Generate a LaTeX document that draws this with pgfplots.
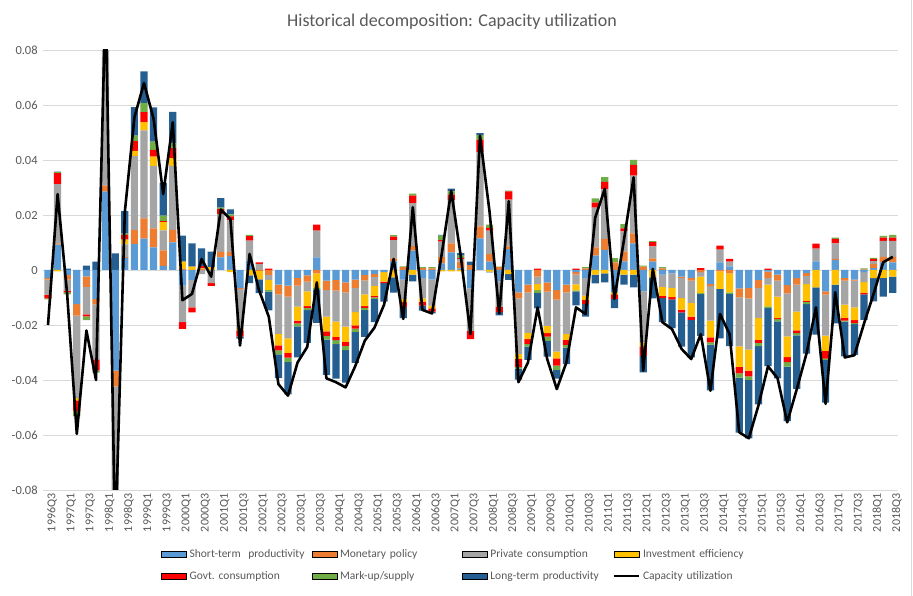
\documentclass[border=0pt]{standalone}
\usepackage{pgfplots}
\pgfplotsset{compat=1.18}
\usepackage{pgfplotstable}
\usepackage{fontspec}
\setmainfont{Carlito}

\definecolor{cST}{HTML}{5B9BD5}
\definecolor{cMP}{HTML}{ED7D31}
\definecolor{cPC}{HTML}{A5A5A5}
\definecolor{cIE}{HTML}{FFC000}
\definecolor{cGC}{HTML}{FF0000}
\definecolor{cMK}{HTML}{70AD47}
\definecolor{cLT}{HTML}{255E91}
\definecolor{txt}{HTML}{595959}
\definecolor{gridc}{HTML}{D9D9D9}

% q = quarter index from 1996Q3; contributions by shock, cu = capacity utilization
\pgfplotstableread{
q  st      mp      pc      ie      gc      mk      lt      cu
0  -0.0030 -0.0005 -0.0055  0      -0.0013 -0.0004  0      -0.0200
1   0.0092  0.0005  0.0215 -0.0005  0.0040  0.0004  0.0002  0.0276
2  -0.0018 -0.0017 -0.0040  0      -0.0006 -0.0008  0.0005 -0.0090
3  -0.0124 -0.0042 -0.0300 -0.0008 -0.0040 -0.0018  0      -0.0596
4  -0.0023 -0.0038 -0.0100  0      -0.0008 -0.0013  0.0016 -0.0220
5  -0.0105 -0.0020 -0.0200  0      -0.0040 -0.0008  0.0030 -0.0400
6   0.0285  0.0022  0.0600  0       0       0       0       0.1000
7  -0.0366 -0.0057 -0.0600  0       0       0       0.0060 -0.1000
8   0.0044  0.0003  0.0046  0.0017  0.0018  0.0004  0.0082  0.0210
9   0.0095  0.0050  0.0270  0.0018  0.0036  0.0020  0.0103  0.0555
10  0.0114  0.0074  0.0320  0.0030  0.0036  0.0033  0.0115  0.0680
11  0.0082  0.0069  0.0228  0.0033  0.0025  0.0030  0.0124  0.0550
12  0.0015  0.0056  0.0073  0.0030  0.0004  0.0020  0.0119  0.0276
13  0.0100  0.0046  0.0233  0.0028  0.0036  0.0017  0.0115  0.0537
14 -0.0057  0.0005 -0.0133  0.0025 -0.0024  0       0.0095 -0.0110
15 -0.0036  0      -0.0100  0.0012 -0.0018  0       0.0085 -0.0087
16  0       0.0005 -0.0015  0.0002  0.0007  0       0.0065  0.0040
17  0       0      -0.0048  0.0010 -0.0010  0       0.0057 -0.0024
18  0.0046  0.0020  0.0137  0       0.0018  0.0006  0.0034  0.0220
19  0.0050  0.0015  0.0115 -0.0008  0.0015  0.0007  0.0018  0.0185
20 -0.0065 -0.0004 -0.0145 -0.0006 -0.0022  0      -0.0008 -0.0275
21  0.0034  0       0.0073 -0.0020  0.0016  0.0005 -0.0028  0.0058
22  0      -0.0003  0.0022 -0.0031  0.0006  0      -0.0050 -0.0075
23  0      -0.0018 -0.0018 -0.0036  0.0005 -0.0007 -0.0068 -0.0170
24 -0.0053 -0.0036 -0.0143 -0.0042 -0.0018 -0.0015 -0.0086 -0.0415
25 -0.0057 -0.0040 -0.0152 -0.0052 -0.0018 -0.0015 -0.0118 -0.0457
26 -0.0029 -0.0028 -0.0076 -0.0051 -0.0010 -0.0011 -0.0113 -0.0336
27 -0.0020 -0.0022 -0.0036 -0.0053 -0.0007 -0.0008 -0.0119 -0.0280
28  0.0046 -0.0012  0.0097 -0.0053  0.0022 -0.0007 -0.0120 -0.0045
29 -0.0039 -0.0033 -0.0098 -0.0053 -0.0017 -0.0013 -0.0128 -0.0394
30 -0.0036 -0.0039 -0.0113 -0.0055 -0.0012 -0.0015 -0.0125 -0.0408
31 -0.0045 -0.0036 -0.0125 -0.0055 -0.0015 -0.0015 -0.0119 -0.0427
32 -0.0035 -0.0030 -0.0088 -0.0048 -0.0012 -0.0012 -0.0113 -0.0350
33 -0.0018 -0.0020 -0.0051 -0.0042 -0.0007 -0.0008 -0.0097 -0.0257
34 -0.0015 -0.0010 -0.0033 -0.0036 -0.0006 -0.0005 -0.0085 -0.0210
35 -0.0008  0       0      -0.0034 -0.0006  0      -0.0067 -0.0127
36  0.0031  0.0011  0.0067 -0.0027  0.0012  0.0006 -0.0055  0.0040
37 -0.0035  0.0010 -0.0070 -0.0012 -0.0018  0.0003 -0.0040 -0.0178
38  0.0070  0.0018  0.0155 -0.0017  0.0027  0.0008 -0.0024  0.0228
39 -0.0030  0.0007 -0.0073 -0.0012 -0.0015  0.0003 -0.0018 -0.0145
40 -0.0034  0.0006 -0.0096 -0.0010 -0.0011  0.0004 -0.0007 -0.0158
41  0.0024  0.0024  0.0055 -0.0005  0.0006  0.0016  0.0003  0.0055
42  0.0064  0.0033  0.0158 -0.0005  0.0019  0.0012  0.0010  0.0288
43  0.0006  0.0024  0.0010 -0.0005  0.0004  0.0008  0.0009  0.0050
44 -0.0067  0.0018 -0.0154  0      -0.0030  0       0.0012 -0.0233
45  0.0115  0.0044  0.0270  0       0.0045  0.0016  0.0008  0.0488
46  0.0030  0.0028  0.0085 -0.0006  0.0010  0.0012 -0.0003  0.0210
47 -0.0041  0.0010 -0.0092  0      -0.0020  0.0002 -0.0012 -0.0158
48  0.0076  0.0010  0.0170 -0.0015  0.0030  0.0003 -0.0021  0.0250
49 -0.0081 -0.0022 -0.0202 -0.0018 -0.0030 -0.0006 -0.0040 -0.0408
50 -0.0053 -0.0028 -0.0148 -0.0022 -0.0018 -0.0010 -0.0048 -0.0336
51  0      -0.0024 -0.0027 -0.0022  0.0005 -0.0010 -0.0057 -0.0136
52 -0.0045 -0.0034 -0.0124 -0.0027 -0.0012 -0.0016 -0.0057 -0.0324
53 -0.0073 -0.0035 -0.0189 -0.0024 -0.0027 -0.0015 -0.0032 -0.0433
54 -0.0053 -0.0028 -0.0152 -0.0021 -0.0018 -0.0010 -0.0060 -0.0336
55 -0.0008 -0.0008 -0.0036 -0.0022  0.0005 -0.0004 -0.0051 -0.0136
56 -0.0029  0.0006 -0.0064 -0.0016 -0.0015  0.0004 -0.0046 -0.0160
57  0.0052  0.0030  0.0145 -0.0017  0.0018  0.0015 -0.0032  0.0190
58  0.0073  0.0040  0.0180 -0.0012  0.0027  0.0018 -0.0033  0.0295
59 -0.0081  0.0028  0      -0.0008 -0.0016  0.0015 -0.0034 -0.0105
60  0.0031  0.0036  0.0073 -0.0017  0.0011  0.0016 -0.0036  0.0110
61  0.0097  0.0036  0.0210 -0.0017  0.0039  0.0018 -0.0046  0.0337
62 -0.0078  0.0012 -0.0185 -0.0016 -0.0033  0.0004 -0.0060 -0.0366
63  0.0030  0.0012  0.0044 -0.0027  0.0015  0.0004 -0.0076  0.0004
64 -0.0017  0.0006 -0.0044 -0.0033 -0.0008  0.0004 -0.0088 -0.0190
65 -0.0012  0      -0.0053 -0.0034 -0.0008  0      -0.0104 -0.0215
66 -0.0024 -0.0005 -0.0073 -0.0042 -0.0010  0      -0.0125 -0.0287
67 -0.0029 -0.0010 -0.0081 -0.0050 -0.0011  0      -0.0137 -0.0324
68  0      -0.0008 -0.0016 -0.0060  0.0007 -0.0004 -0.0152 -0.0233
69 -0.0051 -0.0008 -0.0125 -0.0061 -0.0018 -0.0008 -0.0167 -0.0439
70  0.0028 -0.0005  0.0046 -0.0064  0.0015  0      -0.0180 -0.0160
71  0.0013 -0.0012  0.0017 -0.0069  0.0010 -0.0006 -0.0190 -0.0233
72 -0.0067 -0.0033 -0.0178 -0.0074 -0.0024 -0.0015 -0.0200 -0.0590
73 -0.0065 -0.0038 -0.0187 -0.0076 -0.0021 -0.0013 -0.0212 -0.0612
74 -0.0036 -0.0029 -0.0110 -0.0079 -0.0011 -0.0012 -0.0212 -0.0493
75 -0.0006 -0.0023 -0.0024 -0.0079  0.0005 -0.0007 -0.0211 -0.0350
76 -0.0017 -0.0022 -0.0058 -0.0078 -0.0004 -0.0008 -0.0207 -0.0394
77 -0.0055 -0.0030 -0.0156 -0.0076 -0.0018 -0.0016 -0.0199 -0.0554
78 -0.0030 -0.0023 -0.0098 -0.0069 -0.0010 -0.0008 -0.0194 -0.0433
79 -0.0011 -0.0010 -0.0030 -0.0061 -0.0004 -0.0008 -0.0180 -0.0305
80  0.0031  0       0.0047 -0.0063  0.0018  0      -0.0172 -0.0136
81 -0.0078 -0.0012 -0.0149 -0.0055 -0.0028 -0.0005 -0.0155 -0.0487
82  0.0036  0.0004  0.0057 -0.0053  0.0016  0.0005 -0.0141 -0.0081
83 -0.0029 -0.0010 -0.0087 -0.0048 -0.0010 -0.0004 -0.0126 -0.0318
84 -0.0035 -0.0004 -0.0097 -0.0046 -0.0011 -0.0004 -0.0112 -0.0310
85 -0.0008  0.0002 -0.0036 -0.0039 -0.0006  0.0004 -0.0092 -0.0195
86  0.0007  0.0015  0.0010 -0.0030  0.0008  0.0004 -0.0084 -0.0087
87  0.0028  0.0020  0.0058 -0.0029  0.0012  0.0006 -0.0068  0.0028
88  0.0028  0.0020  0.0058 -0.0024  0.0012  0.0010 -0.0059  0.0048
}\hd

\pgfplotsset{
  hdbase/.style={scale only axis, width=854.4pt, height=440pt,
    at={(0pt,0pt)}, anchor=south west,
    xmin=-0.5, xmax=88.5, ymin=-0.08, ymax=0.08},
  hdbars/.style={hdbase, ybar stacked, bar width=7.2pt},
  lgarea/.style={legend image code/.code={\fill[##1] (0pt,-3pt) rectangle (25pt,3pt);}},
  lgline/.style={legend image code/.code={\draw[##1] (0pt,0pt) -- (25pt,0pt);}},
}

\begin{document}
\begin{tikzpicture}
\useasboundingbox (-43.2pt,-106pt) rectangle (869.8pt,490pt);
\fill[white] (-43.2pt,-106pt) rectangle (869.8pt,490pt);

% positive contributions
\begin{axis}[hdbars,
  axis line style={draw=none}, major tick length=0pt,
  ymajorgrids, grid style={gridc, line width=0.8pt},
  scaled y ticks=false,
  ytick={-0.08,-0.06,-0.04,-0.02,0,0.02,0.04,0.06,0.08},
  yticklabels={-0.08,-0.06,-0.04,-0.02,0,0.02,0.04,0.06,0.08},
  xtick={0,2,...,88},
  xticklabels={1996Q3,1997Q1,1997Q3,1998Q1,1998Q3,1999Q1,1999Q3,2000Q1,2000Q3,2001Q1,2001Q3,2002Q1,2002Q3,2003Q1,2003Q3,2004Q1,2004Q3,2005Q1,2005Q3,2006Q1,2006Q3,2007Q1,2007Q3,2008Q1,2008Q3,2009Q1,2009Q3,2010Q1,2010Q3,2011Q1,2011Q3,2012Q1,2012Q3,2013Q1,2013Q3,2014Q1,2014Q3,2015Q1,2015Q3,2016Q1,2016Q3,2017Q1,2017Q3,2018Q1,2018Q3},
  x tick label style={rotate=90, anchor=east, font=\fontsize{12}{14}\selectfont, text=txt, yshift=-4pt},
  y tick label style={font=\fontsize{12.5}{14}\selectfont, text=txt, xshift=-2pt},
]
\addplot[draw=none, fill=cST] table[x=q, y expr={max(\thisrow{st},0)}] {\hd};
\addplot[draw=none, fill=cMP] table[x=q, y expr={max(\thisrow{mp},0)}] {\hd};
\addplot[draw=none, fill=cPC] table[x=q, y expr={max(\thisrow{pc},0)}] {\hd};
\addplot[draw=none, fill=cIE] table[x=q, y expr={max(\thisrow{ie},0)}] {\hd};
\addplot[draw=none, fill=cGC] table[x=q, y expr={max(\thisrow{gc},0)}] {\hd};
\addplot[draw=none, fill=cMK] table[x=q, y expr={max(\thisrow{mk},0)}] {\hd};
\addplot[draw=none, fill=cLT] table[x=q, y expr={max(\thisrow{lt},0)}] {\hd};
\end{axis}

% negative contributions
\begin{axis}[hdbars, hide axis]
\addplot[draw=none, fill=cST] table[x=q, y expr={min(\thisrow{st},0)}] {\hd};
\addplot[draw=none, fill=cMP] table[x=q, y expr={min(\thisrow{mp},0)}] {\hd};
\addplot[draw=none, fill=cPC] table[x=q, y expr={min(\thisrow{pc},0)}] {\hd};
\addplot[draw=none, fill=cIE] table[x=q, y expr={min(\thisrow{ie},0)}] {\hd};
\addplot[draw=none, fill=cGC] table[x=q, y expr={min(\thisrow{gc},0)}] {\hd};
\addplot[draw=none, fill=cMK] table[x=q, y expr={min(\thisrow{mk},0)}] {\hd};
\addplot[draw=none, fill=cLT] table[x=q, y expr={min(\thisrow{lt},0)}] {\hd};
\end{axis}

% capacity utilization line and legend
\begin{axis}[hdbase, hide axis,
  legend columns=4,
  legend style={at={(0.1379,-0.1318)}, anchor=north west, draw=none, fill=none,
    inner sep=0pt, row sep=10pt, cells={anchor=west},
    nodes={inner ysep=0pt, inner xsep=3pt, text width=119pt, text height=9pt, text depth=3pt,
      font=\fontsize{11.5}{14}\selectfont, text=txt}},
]
\addlegendimage{lgarea, fill=cST}
\addlegendimage{lgarea, fill=cMP}
\addlegendimage{lgarea, fill=cPC}
\addlegendimage{lgarea, fill=cIE}
\addlegendimage{lgarea, fill=cGC}
\addlegendimage{lgarea, fill=cMK}
\addlegendimage{lgarea, fill=cLT}
\addplot[black, line width=2.6pt, line join=round, lgline]
  table[x=q, y=cu] {\hd};
\legend{\mbox{Short-term\ \ productivity}, \mbox{Monetary policy}, \mbox{Private consumption}, \mbox{Investment efficiency},
  \mbox{Govt.\ consumption}, \mbox{Mark-up/supply}, \mbox{Long-term productivity}, \mbox{Capacity utilization}}
\end{axis}

\node[font=\fontsize{18}{21}\selectfont, text=txt] at (408.8pt,468pt)
  {Historical decomposition: Capacity utilization};
\draw[gridc, line width=0.8pt] (868.6pt,-106pt) -- (868.6pt,490pt);
\end{tikzpicture}
\end{document}
